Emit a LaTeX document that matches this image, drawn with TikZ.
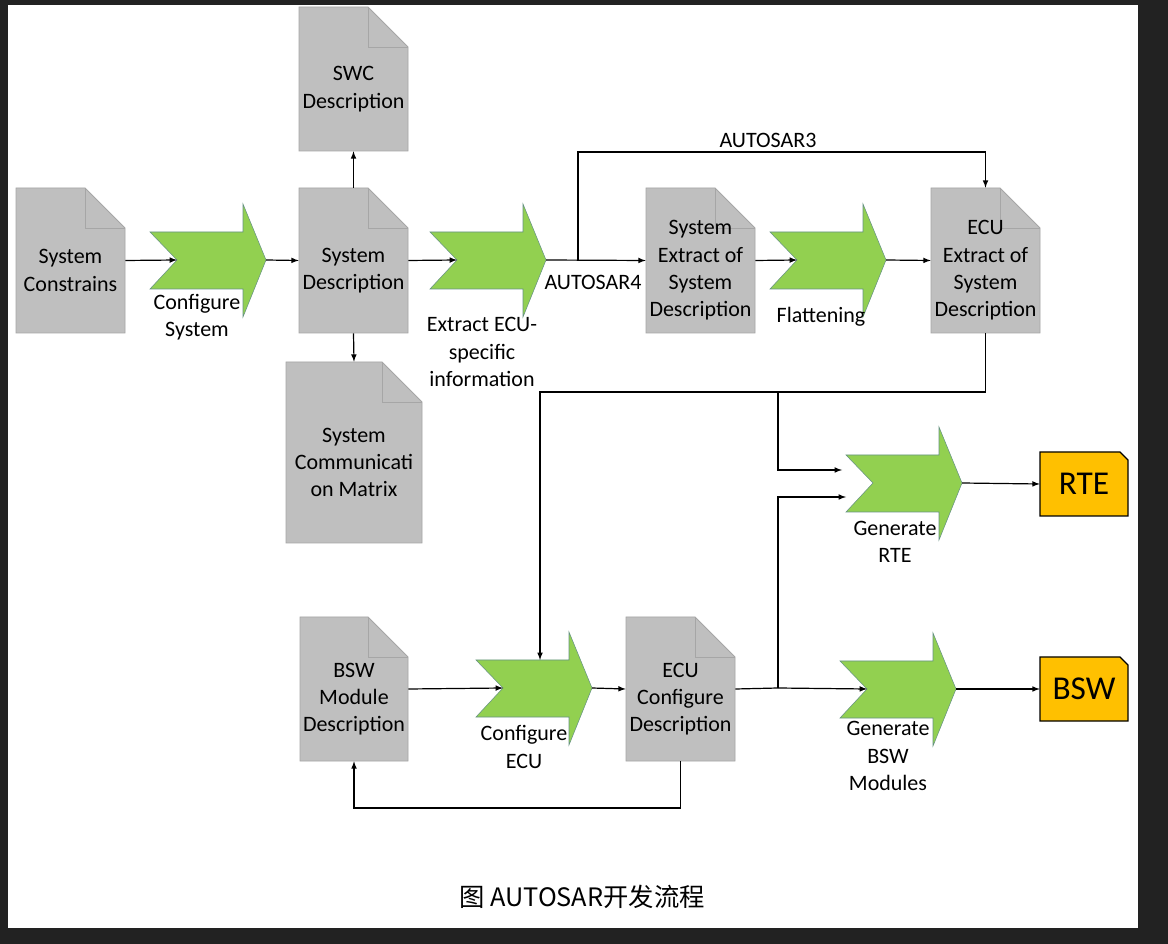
\documentclass[tikz,border=0pt]{standalone}
\usepackage{fontspec}
\setmainfont{Carlito}
\newfontfamily\cjk{Noto Sans CJK SC}
\usetikzlibrary{calc}
\definecolor{docg}{HTML}{BFBFBF}
\definecolor{docb}{HTML}{A6A6A6}
\definecolor{grn}{HTML}{92D050}
\definecolor{org}{HTML}{FFC000}
\definecolor{bg}{HTML}{222222}
\tikzset{
  lbl/.style={align=center,font=\fontsize{16.5}{20.5}\selectfont,inner sep=0pt},
  con/.style={draw=black,line width=0.9pt,-latex},
  ln/.style={draw=black,line width=0.9pt},
}
% doc: name, x1, y1, x2, y2, text
\newcommand\mydoc[6]{%
  \fill[docg,draw=docb,line width=0.6pt] (#2,#3) -- (#4-40,#3) -- (#4,#3+40) -- (#4,#5) -- (#2,#5) -- cycle;
  \draw[docb,line width=0.6pt] (#4-40,#3) -- (#4-40,#3+40) -- (#4,#3+40);
  \node[lbl,minimum width={(#4-#2)*0.75pt},minimum height={(#5-#3)*0.75pt}] (#1) at ({(#2+#4)/2},{(#3+#5)/2}) {};
  \node[lbl] (#1-t) at ({(#2+#4)/2},{(#3+20+#5)/2}) {#6};}
\newcommand\outd[6]{%
  \fill[org,draw=black,line width=0.9pt] (#2,#3) -- (#4-8,#3) -- (#4,#3+8) -- (#4,#5) -- (#2,#5) -- cycle;
  \node[font=\fontsize{25}{28}\selectfont,inner sep=0pt,minimum width={(#4-#2)*0.75pt},minimum height={(#5-#3)*0.75pt}] (#1) at ({(#2+#4)/2},{(#3+#5)/2}) {#6};}
% chevron: name, left x, center y
\newcommand\chev[3]{%
  \fill[grn,draw=grn!70!blue,line width=0.4pt] (#2,#3-28) -- (#2+93,#3-28) -- (#2+93,#3-56) -- (#2+116,#3) -- (#2+93,#3+57) -- (#2+93,#3+29) -- (#2,#3+29) -- (#2+27,#3) -- cycle;
  \coordinate (#1) at (#2+58,#3);
  \coordinate (#1-in) at (#2+27,#3);
  \coordinate (#1-out) at (#2+116,#3);}
\begin{document}
\begin{tikzpicture}[x=0.75pt,y=-0.75pt]
\fill[bg] (0,0) rectangle (1168,944);
\fill[white] (8,5) rectangle (1138,928);
\useasboundingbox (0,0) rectangle (1168,944);
\mydoc{sc}{16}{188}{125}{333}{System\\Constrains}
\mydoc{swc}{299}{7}{408}{151}{SWC\\Description}
\mydoc{sd}{299}{188}{408}{333}{System\\Description}
\mydoc{scm}{286}{362}{422}{543}{System\\Communicati\\on Matrix}
\mydoc{se}{646}{188}{755}{333}{System\\Extract of\\System\\Description}
\mydoc{ee}{931}{188}{1040}{333}{ECU\\Extract of\\System\\Description}
\mydoc{bm}{300}{617}{408}{761}{BSW\\Module\\Description}
\mydoc{ec}{626}{617}{735}{761}{ECU\\Configure\\Description}
\outd{rte}{1040}{452}{1128}{516}{RTE}
\outd{bsw}{1040}{657}{1128}{721}{BSW}
\chev{cs}{150}{260}
\chev{ex}{430}{260}
\chev{fl}{770}{260}
\chev{ce}{476}{688}
\chev{gr}{846}{483}
\chev{gb}{840}{689}
\node[lbl] (lcs) at (197,317) {Configure\\System};
\node[lbl] (lex) at (482,352) {Extract ECU-\\specific\\information};
\node[lbl] (lfl) at (821,317) {Flattening};
\node[lbl] (lce) at (524,747) {Configure\\ECU};
\node[lbl] (lgr) at (895,542) {Generate\\RTE};
\node[lbl] (lgb) at (888,756) {Generate\\BSW\\Modules};
\node[lbl] (a3) at (768,140) {AUTOSAR3};
\node[lbl] (a4) at (593,282) {AUTOSAR4};
\node[inner sep=0pt,font=\cjk\fontsize{19}{22}\selectfont] (cap) at (582,897) {图 AUTOSAR开发流程};
% connectors
\draw[con] (sc.east) -- (cs-in);
\draw[con] (cs-out) -- (sd.west);
\draw[con] (sd.north) -- (swc.south);
\draw[con] (sd.south) -- (scm.north);
\draw[con] (sd.east) -- (ex-in);
\draw[con] (ex-out) -- (se.west);
\coordinate (br) at (578,260);
\draw[con] (br) -- (578,152) -- (ee.north |- 0,152) -- (ee.north);
\draw[con] (se.east) -- (fl-in);
\draw[con] (fl-out) -- (ee.west);
\coordinate (j1) at (778,392);
\draw[con] (ee.south) -- (ee.south |- j1) -- (540,392) -- (540,660);
\draw[con] (j1) -- (778,470) -- (842,470);
\coordinate (j2) at (778,688);
\draw[ln] (ec.east) -- (j2);
\draw[con] (j2) -- (778,497) -- (846,497);
\draw[con] (j2) -- (gb-in);
\draw[con] (bm.east) -- (ce-in);
\draw[con] (ce-out) -- (ec.west);
\draw[con] (ec.south) -- (ec.south |- 0,808) -- (bm.south |- 0,808) -- (bm.south);
\draw[con] (gr-out) -- (rte.west);
\draw[con] (gb-out) -- (bsw.west);
\end{tikzpicture}
\end{document}
